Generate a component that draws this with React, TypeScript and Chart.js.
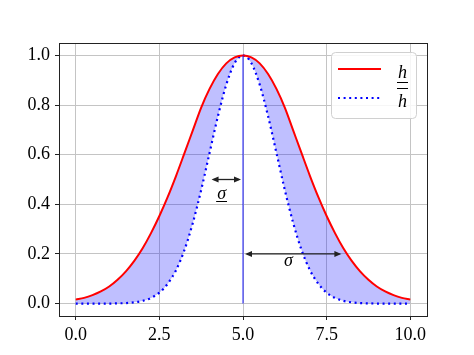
import React, { useEffect, useRef } from "react";
import { Chart, registerables } from "chart.js";

Chart.register(...registerables);

// x positions of the samples
const xValues = [
  0, 0.25, 0.5, 0.75, 1, 1.25, 1.5, 1.75, 2, 2.25, 2.5, 2.75, 3, 3.25, 3.5, 3.75, 4, 4.25, 4.5, 4.75,
  5, 5.25, 5.5, 5.75, 6, 6.25, 6.5, 6.75, 7, 7.25, 7.5, 7.75, 8, 8.25, 8.5, 8.75, 9, 9.25, 9.5, 9.75, 10,
];
// red solid curve (h underline)
const redValues = [
  0.016, 0.023, 0.034, 0.049, 0.069, 0.096, 0.13, 0.172, 0.223, 0.284, 0.353, 0.43, 0.515, 0.606, 0.698,
  0.79, 0.865, 0.925, 0.968, 0.992, 1.0, 0.992, 0.968, 0.925, 0.865, 0.79, 0.698, 0.606, 0.515, 0.43,
  0.353, 0.284, 0.223, 0.172, 0.13, 0.096, 0.069, 0.049, 0.034, 0.023, 0.016,
];
// blue dotted curve (h overline)
const blueValues = [
  0, 0, 0, 0, 0, 0.001, 0.002, 0.005, 0.011, 0.023, 0.044, 0.08, 0.135, 0.216, 0.325, 0.458, 0.607,
  0.755, 0.882, 0.969, 1.0, 0.969, 0.882, 0.755, 0.607, 0.458, 0.325, 0.216, 0.135, 0.08, 0.044,
  0.023, 0.011, 0.005, 0.002, 0.001, 0, 0, 0, 0, 0,
];
// vertical centre line
const centerLineX = [5, 5];
const centerLineY = [0, 1];
// tick values
const xTicks = [0, 2.5, 5, 7.5, 10];
const yTicks = [0, 0.2, 0.4, 0.6, 0.8, 1.0];
// sigma arrows: [x start, x end, y]
const arrowUnder = [4, 5, 0.5];
const arrowOver = [5, 8, 0.2];
// sigma labels: [x, y (baseline)]
const sigmaUnderPos = [4.36, 0.422];
const sigmaOverPos = [6.36, 0.15];
// legend labels
const legendLabels = ["h", "h"];

const RED = "#ff0000";
const BLUE = "#0000ff";
const TICK_FONT = { family: "'Liberation Serif', serif", size: 18 };
const ITALIC = "italic 18px 'Liberation Serif', serif";

function drawArrow(ctx: CanvasRenderingContext2D, x1: number, x2: number, y: number) {
  const shrink = 2;
  const a = x1 + shrink;
  const b = x2 - shrink;
  const hl = 7;
  const hw = 3;
  ctx.save();
  ctx.strokeStyle = "#222";
  ctx.fillStyle = "#222";
  ctx.lineWidth = 1.3;
  ctx.beginPath();
  ctx.moveTo(a + 2, y);
  ctx.lineTo(b - 2, y);
  ctx.stroke();
  ctx.beginPath();
  ctx.moveTo(a, y);
  ctx.lineTo(a + hl, y - hw);
  ctx.lineTo(a + hl, y + hw);
  ctx.closePath();
  ctx.fill();
  ctx.beginPath();
  ctx.moveTo(b, y);
  ctx.lineTo(b - hl, y - hw);
  ctx.lineTo(b - hl, y + hw);
  ctx.closePath();
  ctx.fill();
  ctx.restore();
}

const overlayPlugin = {
  id: "overlay",
  afterDraw(chart: any) {
    const ctx: CanvasRenderingContext2D = chart.ctx;
    const xs = chart.scales.x;
    const ys = chart.scales.y;
    const ca = chart.chartArea;

    // frame
    ctx.save();
    ctx.strokeStyle = "#222";
    ctx.lineWidth = 1;
    ctx.strokeRect(Math.round(ca.left) + 0.5, Math.round(ca.top) + 0.5, Math.round(ca.right - ca.left), Math.round(ca.bottom - ca.top));
    ctx.restore();

    // arrows
    drawArrow(ctx, xs.getPixelForValue(arrowUnder[0]), xs.getPixelForValue(arrowUnder[1]), ys.getPixelForValue(arrowUnder[2]));
    drawArrow(ctx, xs.getPixelForValue(arrowOver[0]), xs.getPixelForValue(arrowOver[1]), ys.getPixelForValue(arrowOver[2]));

    // sigma labels
    ctx.save();
    ctx.font = ITALIC;
    ctx.fillStyle = "#000";
    ctx.textAlign = "center";
    ctx.textBaseline = "alphabetic";
    const sx = xs.getPixelForValue(sigmaUnderPos[0]);
    const sy = ys.getPixelForValue(sigmaUnderPos[1]);
    ctx.fillText("σ", sx, sy);
    const sw = ctx.measureText("σ").width;
    ctx.strokeStyle = "#000";
    ctx.lineWidth = 1;
    ctx.beginPath();
    ctx.moveTo(sx - sw / 2 - 1, Math.round(sy + 2.5) + 0.5);
    ctx.lineTo(sx + sw / 2 + 1, Math.round(sy + 2.5) + 0.5);
    ctx.stroke();
    ctx.fillText("σ", xs.getPixelForValue(sigmaOverPos[0]), ys.getPixelForValue(sigmaOverPos[1]));
    ctx.restore();

    // legend
    const bw = 85;
    const bh = 66;
    const bx = ca.right - 11 - bw;
    const by = ca.top + 9;
    ctx.save();
    ctx.fillStyle = "rgba(255,255,255,0.85)";
    ctx.strokeStyle = "#d0d0d0";
    ctx.lineWidth = 1;
    ctx.beginPath();
    (ctx as any).roundRect(Math.round(bx) + 0.5, Math.round(by) + 0.5, bw, bh, 4);
    ctx.fill();
    ctx.stroke();

    ctx.lineWidth = 2;
    ctx.strokeStyle = RED;
    ctx.beginPath();
    ctx.moveTo(bx + 7, by + 17);
    ctx.lineTo(bx + 50, by + 17);
    ctx.stroke();

    ctx.strokeStyle = BLUE;
    ctx.lineWidth = 2.2;
    ctx.setLineDash([2, 3.6]);
    ctx.beginPath();
    ctx.moveTo(bx + 7, by + 46);
    ctx.lineTo(bx + 50, by + 46);
    ctx.stroke();
    ctx.setLineDash([]);

    ctx.font = ITALIC;
    ctx.fillStyle = "#000";
    ctx.textAlign = "center";
    ctx.textBaseline = "alphabetic";
    const hx = bx + 71.5;
    ctx.fillText(legendLabels[0], hx, by + 26);
    ctx.fillText(legendLabels[1], hx, by + 54.5);
    const hw = ctx.measureText("h").width;
    ctx.strokeStyle = "#000";
    ctx.lineWidth = 1;
    ctx.beginPath();
    ctx.moveTo(hx - hw / 2 - 1, Math.round(by + 30) + 0.5);
    ctx.lineTo(hx + hw / 2 + 1, Math.round(by + 30) + 0.5);
    ctx.moveTo(hx - hw / 2 - 1, Math.round(by + 36) + 0.5);
    ctx.lineTo(hx + hw / 2 + 1, Math.round(by + 36) + 0.5);
    ctx.stroke();
    ctx.restore();
  },
};

export default function App() {
  const canvasRef = useRef<HTMLCanvasElement | null>(null);

  useEffect(() => {
    if (!canvasRef.current) return;
    const redData = xValues.map((x, i) => ({ x, y: redValues[i] }));
    const blueData = xValues.map((x, i) => ({ x, y: blueValues[i] }));
    const centerData = centerLineX.map((x, i) => ({ x, y: centerLineY[i] }));

    const chart = new Chart(canvasRef.current, {
      type: "line",
      data: {
        datasets: [
          {
            label: "center",
            data: centerData,
            borderColor: "rgba(0,0,255,0.6)",
            borderWidth: 1.5,
            pointRadius: 0,
            fill: false,
          },
          {
            label: "h_under",
            data: redData,
            borderColor: RED,
            borderWidth: 2,
            pointRadius: 0,
            cubicInterpolationMode: "monotone",
            fill: "+1",
            backgroundColor: "rgba(0,0,255,0.25)",
          },
          {
            label: "h_over",
            data: blueData,
            borderColor: BLUE,
            borderWidth: 2.2,
            borderDash: [2, 3.6],
            pointRadius: 0,
            cubicInterpolationMode: "monotone",
            fill: false,
          },
        ],
      },
      options: {
        responsive: false,
        animation: false,
        parsing: true,
        layout: { padding: { top: 43, right: 47, left: 0, bottom: 0 } },
        plugins: {
          legend: { display: false },
          tooltip: { enabled: false },
          title: { display: false },
        },
        scales: {
          x: {
            type: "linear",
            min: -0.5,
            max: 10.5,
            afterBuildTicks: (s: any) => {
              s.ticks = xTicks.map((v) => ({ value: v }));
            },
            afterFit: (s: any) => {
              s.height = 39;
            },
            ticks: {
              autoSkip: false,
              maxRotation: 0,
              color: "#000",
              padding: 4,
              font: TICK_FONT,
              callback: (v: any) => Number(v).toFixed(1),
            },
            grid: { color: "#c4c4c4", lineWidth: 1, tickLength: 4, tickColor: "#222" },
            border: { display: false },
          },
          y: {
            type: "linear",
            min: -0.05,
            max: 1.05,
            afterBuildTicks: (s: any) => {
              s.ticks = yTicks.map((v) => ({ value: v }));
            },
            afterFit: (s: any) => {
              s.width = 59;
            },
            ticks: {
              autoSkip: false,
              color: "#000",
              padding: 5,
              font: TICK_FONT,
              callback: (v: any) => Number(v).toFixed(1),
            },
            grid: { color: "#c4c4c4", lineWidth: 1, tickLength: 4, tickColor: "#222" },
            border: { display: false },
          },
        },
      },
      plugins: [overlayPlugin],
    } as any);

    return () => chart.destroy();
  }, []);

  return (
    <div style={{ position: "fixed", left: 0, top: 0, width: 474, height: 355, background: "#fff" }}>
      <canvas ref={canvasRef} width={474} height={355} style={{ display: "block" }} />
    </div>
  );
}
